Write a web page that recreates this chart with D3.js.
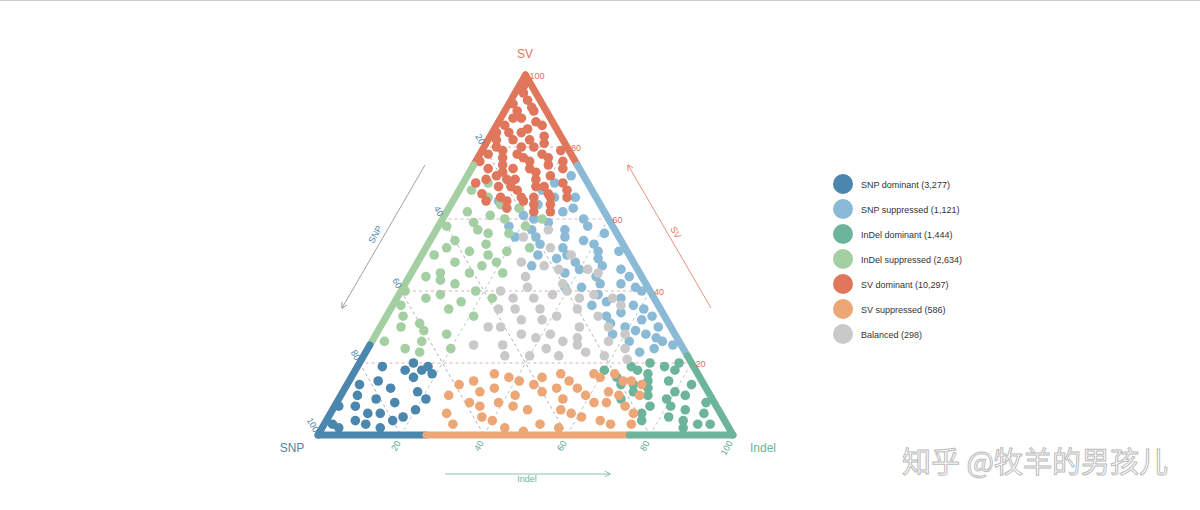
<!DOCTYPE html>
<html lang="en">
<head>
<meta charset="UTF-8">
<title>Ternary plot</title>
<script src="https://d3js.org/d3.v7.min.js"></script>
<style>
  body { margin: 0; background: #fff; font-family: "Liberation Sans", Arial, sans-serif; }
  svg { display: block; }
</style>
</head>
<body>
<svg id="viz" width="1200" height="510"></svg>
<script>
// points as [indel, sv]; snp = 100 - indel - sv
const snpDominant = [[2,3],[4,2],[7,4],[10,3],[12,6],[5,8],[9,10],[14,9],[16,4],[3,14],[7,15],[11,13],[15,16],[18,12],[20,7],[6,19],[12,18],[17,19],[19,17],[9,6],[14,2],[21,10],[1,8],[13,20],[16,18],[4,11],[18,5]];
const snpSuppressed = [[22,70],[20,68],[29,66],[21,64],[17,63],[28,62],[22,60],[34,60],[17,58],[31,57],[41,56],[25,55],[37,54],[33,52],[47,51],[28,50],[43,49],[38,48],[50,46],[37,45],[45,44],[52,42],[39,41],[58,40],[48,39],[54,38],[48,36],[61,35],[56,34],[62,32],[55,31],[67,30],[62,29],[68,27],[62,26],[73,25],[69,24],[25,72],[11,65],[28,47],
  [24,66],[19,61],[26,59],[30,63],[23,57],[20,55],[36,58],[40,53],[32,55],[27,53],[42,51],[35,50],[45,47],[40,46],[53,44],[47,42],[43,41],[56,41],[51,37],[58,36],[53,33],[64,33],[59,30],[65,28],[70,26],[66,23],[57,28],[33,49]];
const indelDominant = [[70,20],[66,19],[77,18],[71,17],[64,16],[77,15],[83,14],[73,13],[70,12],[83,11],[79,10],[89,9],[76,8],[85,7],[90,6],[82,5],[76,4],[90,3],[87,2],[77,20],[60,18],[69,14],[68,10],[75,6],
  [74,19],[68,18],[72,15],[80,12],[74,11],[81,8],[86,4],[93,3],[66,14]];
const indelSuppressed = [[3,68],[8,66],[12,64],[5,62],[15,60],[2,58],[10,57],[18,56],[6,54],[14,53],[20,51],[3,50],[9,48],[16,47],[22,45],[4,44],[12,42],[18,40],[7,38],[2,36],[14,35],[21,33],[5,30],[11,29],[17,28],[3,26],[9,24],[23,38],[25,52],[13,23],[20,24],[24,60],[7,45],[1,40],
  [6,70],[11,61],[17,63],[8,59],[13,56],[21,58],[5,52],[16,50],[11,51],[19,48],[8,43],[14,45],[10,39],[16,37],[4,33],[9,31],[12,26]];
const svDominant = [[2,95],[1,92],[3,90],[5,88],[2,86],[8,85],[4,84],[10,82],[6,82],[12,80],[3,80],[15,78],[9,78],[6,77],[13,76],[18,75],[1,76],[4,74],[10,74],[16,73],[20,72],[7,72],[12,71],[24,70],[3,70],[9,69],[18,69],[14,68],[22,67],[6,67],[27,66],[11,66],[17,65],[20,64],[24,64],[14,63],[8,73],[5,79],[11,86],[7,90],[13,83],[2,82],[19,79],[21,76],
  [1,97],[4,93],[6,91],[3,88],[9,87],[7,84],[1,84],[14,81],[9,80],[17,77],[11,77],[7,75],[2,78],[22,74],[14,74],[5,71],[17,71],[26,68],[10,71],[20,69],[12,69],[16,66],[23,66],[8,65],[19,66],[25,62],[13,65],[21,62]];
const svSuppressed = [[30,15],[33,12],[35,8],[38,16],[40,4],[42,11],[45,14],[47,7],[50,17],[52,3],[54,10],[56,13],[58,6],[60,16],[62,9],[64,12],[66,4],[68,15],[70,8],[72,11],[74,3],[28,6],[31,3],[36,13],[44,2],[48,12],[53,15],[57,2],[61,5],[65,9],[69,3],[26,11],[39,9],[46,16],[63,17],[71,14],[73,6],[49,1],[55,7],[59,11],
  [27,14],[34,17],[41,15],[51,13],[58,17],[66,15],[37,5],[43,8],[67,11],[32,9]];
const balanced = [[22,55],[25,48],[30,52],[28,44],[35,46],[33,38],[40,40],[38,32],[45,35],[42,28],[48,30],[30,35],[26,30],[35,28],[50,25],[55,30],[52,38],[45,45],[32,25],[40,22],[47,22],[58,22],[60,28],[36,50],[28,38],[42,46],[55,36],[62,24],[38,42],[24,40],[49,27],[44,38],[33,32],
  [27,57],[31,47],[37,39],[29,30],[41,33],[46,26],[53,23],[34,22],[43,24],[51,33],[57,26],[26,35],[39,27],[47,39],[36,35],[64,21],[30,41],[25,25]];

const groups = [
  { name: "SNP dominant", count: "3,277", color: "#4a86ad", pts: snpDominant },
  { name: "SNP suppressed", count: "1,121", color: "#8bbad7", pts: snpSuppressed },
  { name: "InDel dominant", count: "1,444", color: "#6cb49c", pts: indelDominant },
  { name: "InDel suppressed", count: "2,634", color: "#a3cfa3", pts: indelSuppressed },
  { name: "SV dominant", count: "10,297", color: "#e0775c", pts: svDominant },
  { name: "SV suppressed", count: "586", color: "#eda675", pts: svSuppressed },
  { name: "Balanced", count: "298", color: "#c9c9c9", pts: balanced }
];

// edge strips: [edge, from, to, color]; "left" indel=0 (by sv), "right" snp=0 (by sv), "bottom" sv=0 (by indel)
const edgeStrips = [
  ["left", 75, 100, "#e0775c"], ["left", 25, 75, "#a3cfa3"], ["left", 0, 25, "#4a86ad"],
  ["right", 75, 100, "#e0775c"], ["right", 22, 75, "#8bbad7"], ["right", 0, 22, "#6cb49c"],
  ["bottom", 0, 26, "#4a86ad"], ["bottom", 26, 75, "#eda675"], ["bottom", 75, 100, "#6cb49c"]
];
const ticks = [20, 40, 60, 80, 100];

const svg = d3.select("#viz");
svg.append("line").attr("x1", 0).attr("x2", 1200).attr("y1", 0.5).attr("y2", 0.5).attr("stroke", "#ccc");

const x = d3.scaleLinear().domain([0, 100]).range([318, 733]);
const y = d3.scaleLinear().domain([0, 100]).range([435, 75]);
const px = (indel, sv) => [x(indel + sv / 2), y(sv)];

// grid
const grid = svg.append("g").attr("fill", "none").attr("stroke-dasharray", "3,3").attr("stroke-width", 0.8);
[20, 40, 60, 80].forEach(v => {
  const a = px(0, v), b = px(100 - v, v);       // sv = v
  grid.append("line").attr("x1", a[0]).attr("y1", a[1]).attr("x2", b[0]).attr("y2", b[1]).attr("stroke", "#d99");
  const c = px(v, 0), d = px(v, 100 - v);       // indel = v
  grid.append("line").attr("x1", c[0]).attr("y1", c[1]).attr("x2", d[0]).attr("y2", d[1]).attr("stroke", "#9bb");
  const e = px(0, 100 - v), f = px(100 - v, 0); // snp = v
  grid.append("line").attr("x1", e[0]).attr("y1", e[1]).attr("x2", f[0]).attr("y2", f[1]).attr("stroke", "#99a");
});

// points
groups.forEach(g => {
  svg.append("g").selectAll("circle").data(g.pts).join("circle")
    .attr("cx", d => px(d[0], d[1])[0]).attr("cy", d => px(d[0], d[1])[1])
    .attr("r", 4.8).attr("fill", g.color);
});

// edges
edgeStrips.forEach(([edge, a, b, col]) => {
  let p1, p2;
  if (edge === "left") { p1 = px(0, a); p2 = px(0, b); }
  else if (edge === "right") { p1 = px(100 - a, a); p2 = px(100 - b, b); }
  else { p1 = px(a, 0); p2 = px(b, 0); }
  svg.append("line").attr("x1", p1[0]).attr("y1", p1[1]).attr("x2", p2[0]).attr("y2", p2[1])
    .attr("stroke", col).attr("stroke-width", 7).attr("stroke-linecap", "round");
});

// tick labels
const tl = svg.append("g").attr("font-size", 9);
ticks.forEach(v => {
  let p = px(0, 100 - v); // SNP on left edge
  tl.append("text").attr("x", p[0] - 4).attr("y", p[1] - 2).attr("fill", "#4a7fa8").attr("text-anchor", "end")
    .attr("transform", `rotate(60,${p[0] - 4},${p[1] - 2})`).text(v);
  p = px(v, 0); // Indel on bottom
  tl.append("text").attr("x", p[0]).attr("y", p[1] + 8).attr("fill", "#5aa891").attr("text-anchor", "end")
    .attr("transform", `rotate(-60,${p[0]},${p[1] + 8})`).text(v);
  p = px(100 - v, v); // SV on right edge
  tl.append("text").attr("x", p[0] + 4).attr("y", p[1] + 4).attr("fill", "#d9705a").text(v);
});

// corner labels
svg.append("text").attr("x", 525).attr("y", 58).attr("text-anchor", "middle").attr("font-size", 12).attr("fill", "#e0775c").text("SV");
svg.append("text").attr("x", 292).attr("y", 452).attr("text-anchor", "middle").attr("font-size", 12).attr("fill", "#4a86ad").text("SNP");
svg.append("text").attr("x", 763).attr("y", 452).attr("text-anchor", "middle").attr("font-size", 12).attr("fill", "#6cb49c").text("Indel");

// axis arrows
svg.append("defs").selectAll("marker").data([["mSnp", "#888"], ["mSv", "#e0775c"], ["mInd", "#6cb49c"]]).join("marker")
  .attr("id", d => d[0]).attr("viewBox", "0 0 10 10").attr("refX", 9).attr("refY", 5)
  .attr("markerWidth", 8).attr("markerHeight", 8).attr("orient", "auto")
  .append("path").attr("d", "M0,0L10,5L0,10").attr("fill", "none").attr("stroke", d => d[1]).attr("stroke-width", 1.2);
function arrow(x1, y1, x2, y2, col, m, label, lx, ly, rot) {
  svg.append("line").attr("x1", x1).attr("y1", y1).attr("x2", x2).attr("y2", y2)
    .attr("stroke", col).attr("stroke-width", 0.8).attr("marker-end", `url(#${m})`);
  svg.append("text").attr("x", lx).attr("y", ly).attr("text-anchor", "middle").attr("font-size", 9)
    .attr("fill", m === "mSnp" ? "#4a86ad" : col).attr("transform", `rotate(${rot},${lx},${ly})`).text(label);
}
arrow(425, 165, 342, 308, "#888", "mSnp", "SNP", 378, 236, -60);
arrow(711, 308, 628, 165, "#e0775c", "mSv", "SV", 673, 234, 60);
arrow(445, 474, 610, 474, "#6cb49c", "mInd", "Indel", 527, 482, 0);

// legend
const lg = svg.append("g").selectAll("g").data(groups).join("g")
  .attr("transform", (d, i) => `translate(843,${184 + i * 25})`);
lg.append("circle").attr("r", 10).attr("fill", d => d.color);
lg.append("text").attr("x", 18).attr("y", 3.5).attr("font-size", 9).attr("fill", "#333")
  .text(d => `${d.name} (${d.count})`);

// watermark
svg.append("text").attr("x", 1168).attr("y", 473).attr("text-anchor", "end").attr("font-size", 29)
  .attr("font-family", "Noto Sans CJK SC").attr("fill", "#fff").attr("stroke", "#bbb").attr("stroke-width", 1)
  .text("知乎 @牧羊的男孩儿");
</script>
</body>
</html>
